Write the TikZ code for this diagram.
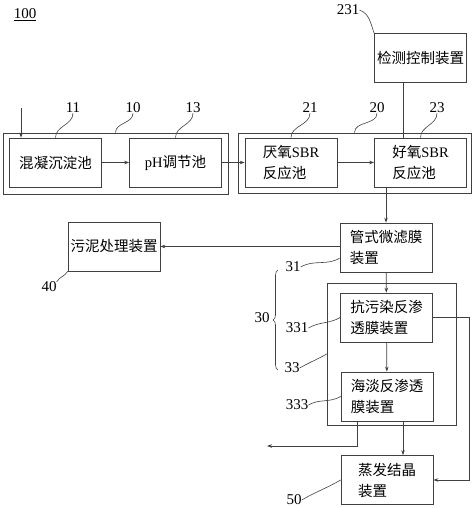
\documentclass[tikz,border=0pt]{standalone}
\usepackage{fontspec}
\setmainfont{Liberation Serif}
\newfontfamily\cjk{Noto Sans CJK SC}
\usetikzlibrary{arrows.meta,decorations.pathreplacing}
\tikzset{>={Stealth[length=5pt,width=3.5pt]}}
\tikzset{%
    unit/.style={%
        draw=black!75, line width=0.7pt, minimum width=92pt, minimum height=49pt,
        inner sep=0pt, align=left, font=\cjk\fontsize{14.5}{21}\selectfont},
    group/.style={draw=black!75, line width=0.7pt, inner sep=0pt},
    num/.style={font=\fontsize{15}{15}\selectfont, inner sep=0pt},
    leader/.style={draw=black!75, line width=0.6pt},
    flow/.style={draw=black!75, line width=0.7pt, ->}
}

\begin{document}
\begin{tikzpicture}[x=1pt,y=-1pt]
    \useasboundingbox (0,0) rectangle (474,508);
    \node[num] (title) at (25,15) {\underline{100}};

    % pretreatment group
    \node[group, minimum width=225pt, minimum height=61pt] (g10) at (115.5,163.5) {};
    \node[unit] (b11) at (55.5,162.5) {混凝沉淀池};
    \node[unit] (b13) at (175.5,162.5) {{\rmfamily pH}调节池};

    % SBR group
    \node[group, minimum width=233pt, minimum height=60pt] (g20) at (354.5,163) {};
    \node[unit] (b21) at (291,162.5) {厌氧{\rmfamily SBR}\\反应池};
    \node[unit] (b23) at (420.5,162.5) {好氧{\rmfamily SBR}\\反应池};
    \node[unit] (b231) at (420.5,58) {检测控制装置};

    \node[unit] (b31) at (386,247.5) {管式微滤膜\\装置};
    \node[unit] (b40) at (114,246.5) {污泥处理装置};

    % reverse osmosis group
    \node[group, minimum width=129pt, minimum height=142pt] (g33) at (391.5,354) {};
    \node[unit] (b331) at (386.5,317.5) {抗污染反渗\\透膜装置};
    \node[unit] (b333) at (387,396.5) {海淡反渗透\\膜装置};
    \node[unit] (b50) at (387,480) {蒸发结晶\\装置};

    \coordinate (feed) at (21,108);
    \coordinate (drain) at (267,446);

    \draw[flow] (feed) -- (feed |- b11.north);
    \draw[flow] (b11) -- (b13);
    \draw[flow] (b13) -- (b21);
    \draw[flow] (b21) -- (b23);
    \draw[leader, line width=0.7pt] (b231.south -| 403,0) -- (b23.north -| 403,0);
    \draw[flow] (b23.south -| b31.north) -- (b31.north);
    \draw[flow] (b31.west |- b40.east) -- (b40.east);
    \draw[flow] (b31) -- (b331);
    \draw[flow] (b331) -- (b333);
    \draw[flow] (b333.south -| 403,0) -- (b50.north -| 403,0);
    \draw[flow] (b333.south -| 357,0) |- (drain);
    \draw[flow] (b331.east) -- ++(36,0) |- (b50.east);

    % reference numerals
    \node[num] (n11) at (73,108) {11};
    \node[num] (n10) at (133,108) {10};
    \node[num] (n13) at (193,108) {13};
    \node[num] (n231) at (348,10) {231};
    \node[num] (n21) at (310,108) {21};
    \node[num] (n20) at (377,108) {20};
    \node[num] (n23) at (437,108) {23};
    \node[num] (n40) at (49,287) {40};
    \node[num] (n31) at (293,267) {31};
    \node[num] (n30) at (262,318) {30};
    \node[num] (n331) at (297,328) {331};
    \node[num] (n33) at (292,368) {33};
    \node[num] (n333) at (297,405) {333};
    \node[num] (n50) at (294,500) {50};

    \draw[leader] (n11.south) to[out=-90,in=90] (b11.north);
    \draw[leader] (n10.south) to[out=-90,in=90] (g10.north);
    \draw[leader] (n13.south) to[out=-90,in=90] (b13.north);
    \draw[leader] (n231.east) to[out=-20,in=110] (b231.north west);
    \draw[leader] (n21.south) to[out=-90,in=90] (b21.north);
    \draw[leader] (n20.south) to[out=-90,in=90] (g20.north);
    \draw[leader] (n23.south) to[out=-90,in=90] (b23.north);
    \draw[leader] (n40.north east) to[out=60,in=240] (b40.south west);
    \draw[leader] (n31.east) to[out=30,in=210] (b31.193);
    \draw[leader] (n331.east) to[out=30,in=210] (b331.west);
    \draw[leader] (n33.east) to[out=30,in=210] (g33.west);
    \draw[leader] (n333.east) to[out=30,in=210] (b333.west);
    \draw[leader] (n50.east) to[out=30,in=210] (b50.west);

    \coordinate (brbot) at (278,370);
    \coordinate (brtop) at (278,270);
    \draw[leader, decorate, decoration={brace, amplitude=5pt}] (brbot) -- (brtop);
\end{tikzpicture}
\end{document}
